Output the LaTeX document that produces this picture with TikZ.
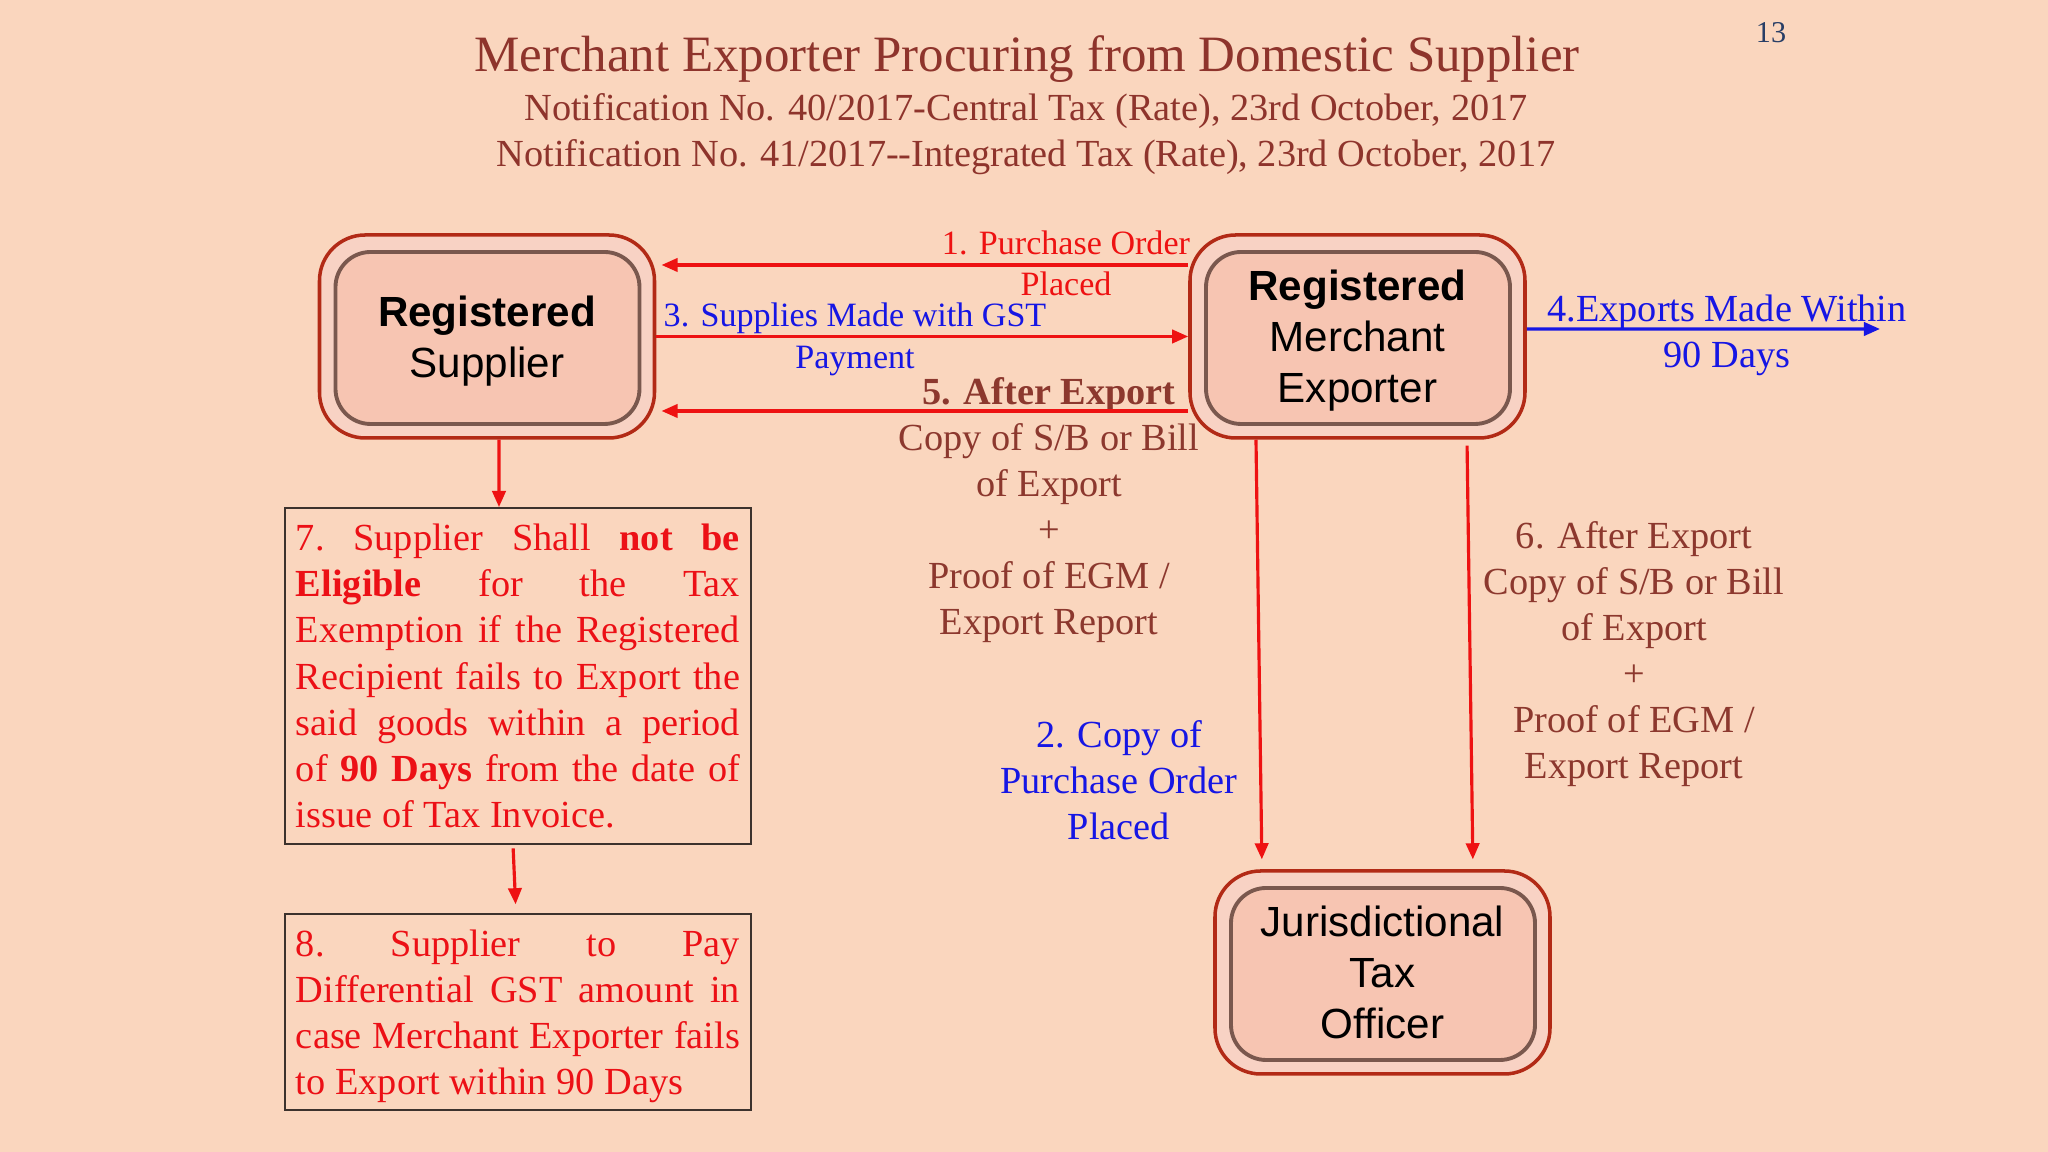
\documentclass[tikz,border=0pt]{standalone}
\usepackage{fontspec}
\setmainfont{Liberation Serif}
\newfontfamily\boxfont{Liberation Sans}
\usepackage{xcolor}
\usepackage{tikz}
\usetikzlibrary{arrows.meta}

\definecolor{peach}{RGB}{250,214,190}
\definecolor{titlebrown}{RGB}{142,52,44}
\definecolor{brownish}{RGB}{140,56,46}
\definecolor{arrowred}{RGB}{238,18,18}
\definecolor{notered}{RGB}{236,16,22}
\definecolor{flowblue}{RGB}{22,22,228}
\definecolor{pagenum}{RGB}{40,62,102}
\definecolor{boxedge}{RGB}{178,42,22}
\definecolor{boxring}{RGB}{248,210,196}
\definecolor{boxfill}{RGB}{247,197,178}
\definecolor{bevel}{RGB}{122,88,78}
\definecolor{notegray}{RGB}{60,50,45}

\begin{document}
\begin{tikzpicture}[
        pbox/.style={draw=boxedge, line width=1pt, fill=boxring, rounded corners=13pt,
                     minimum width=3.35cm, minimum height=2.03cm, align=center, text=black,
                     text depth=0pt, font=\boxfont\fontsize{12}{14.5}\selectfont,
                     path picture={\draw[draw=bevel, line width=1.1pt, fill=boxfill, rounded corners=10pt]
                         ([shift={(0.16,-0.17)}]path picture bounding box.north west) rectangle
                         ([shift={(-0.15,0.14)}]path picture bounding box.south east);}},
        note/.style={draw=notegray, line width=0.5pt, text=notered, text width=4.44cm,
                     align=justify, inner xsep=0.11cm, minimum width=4.66cm,
                     font=\fontsize{10.9}{13.1}\selectfont},
        lbl/.style={inner sep=0pt, align=center, font=\fontsize{10.9}{13.1}\selectfont},
        small/.style={inner sep=0pt, align=center, font=\fontsize{9.7}{11.8}\selectfont},
        arr/.style={-{Triangle[length=4.6pt,width=3.8pt]}, line width=0.9pt, draw=arrowred}
    ]
        \useasboundingbox[fill=peach] (0,0) rectangle (20.48,11.52);

        \node[lbl, text=titlebrown, font=\fontsize{14.5}{17}\selectfont] (title) at (10.27,10.93)
            {Merchant Exporter Procuring from Domestic Supplier};
        \node[lbl, text=titlebrown] (notif) at (10.26,10.18)
            {Notification No. 40/2017-Central Tax (Rate), 23rd October, 2017\\
             Notification No. 41/2017-{}-Integrated Tax (Rate), 23rd October, 2017};
        \node[lbl, text=pagenum, font=\fontsize{8.6}{10}\selectfont] (page) at (17.71,11.19) {13};

        \node[small, text=arrowred] (lbl1) at (10.66,8.885) {1. Purchase Order\\Placed};
        \node[small, text=flowblue] (lbl3) at (8.55,8.125) {3. Supplies Made with GST\\Payment};
        \node[lbl, text=brownish] (lbl5) at (10.49,6.42)
            {\textbf{5. After Export}\\Copy of S/B or Bill\\of Export\\+\\Proof of EGM /\\Export Report};
        \node[lbl, text=brownish] (lbl6) at (16.34,4.975)
            {6. After Export\\Copy of S/B or Bill\\of Export\\+\\Proof of EGM /\\Export Report};
        \node[lbl, text=flowblue] (lbl2) at (11.19,3.72) {2. Copy of\\Purchase Order\\Placed};
        \node[lbl, text=flowblue] (lbl4) at (17.27,8.17) {4.Exports Made Within\\90 Days};

        \node[pbox, text depth=-2.7pt] (supplier) at (4.87,8.155) {\textbf{Registered}\\Supplier};
        \node[pbox, text depth=-1.5pt] (exporter) at (13.575,8.155) {\textbf{Registered}\\Merchant\\Exporter};
        \node[pbox] (officer)  at (13.825,1.795) {Jurisdictional\\Tax\\Officer};

        \node[note, minimum height=3.36cm] (rule7) at (5.18,4.76)
            {7.\ Supplier Shall \textbf{not be}\linebreak
             \textbf{Eligible} for the Tax\linebreak
             Exemption if the Registered\linebreak
             Recipient fails to Export the\linebreak
             said goods within a period\linebreak
             of \textbf{90 Days} from the date of\linebreak
             issue of Tax Invoice.};
        \node[note, minimum height=1.96cm, text depth=39.3pt] (rule8) at (5.18,1.40)
            {8.\ Supplier to Pay\linebreak
             Differential GST amount in\linebreak
             case Merchant Exporter fails\linebreak
             to Export within 90 Days};

        \coordinate (abroad) at (18.80,8.23);

        \draw[arr, shorten >=1.5pt] ([yshift=7.15mm]exporter.west) -- ([yshift=7.15mm]supplier.east);
        \draw[arr] (supplier.east) -- (exporter.west);
        \draw[arr, shorten >=1.5pt] ([yshift=-7.45mm]exporter.west) -- ([yshift=-7.45mm]supplier.east);
        \draw[arr, draw=flowblue] ([yshift=0.75mm]exporter.east) -- (abroad);
        \draw[arr] ([xshift=1.2mm]supplier.south) -- ([xshift=-1.9mm]rule7.north);
        \draw[arr, shorten <=1pt, shorten >=2.5pt] ([xshift=-0.5mm]rule7.south) -- ([xshift=-0.2mm]rule8.north);
        \draw[arr, shorten >=2.8pt] ([xshift=-10.15mm]exporter.south) -- ([xshift=-12.05mm]officer.north);
        \draw[arr, shorten <=1.7pt, shorten >=2.8pt] ([xshift=10.95mm]exporter.south) -- ([xshift=9.05mm]officer.north);
    \end{tikzpicture}
\end{document}
